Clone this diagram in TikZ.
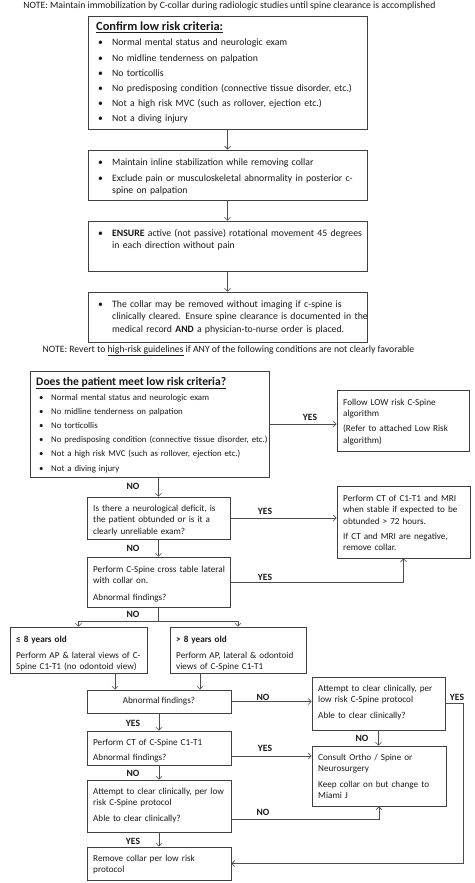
\documentclass[tikz,border=0pt]{standalone}
\usepackage{fontspec}
\setmainfont{Carlito}
\usetikzlibrary{fit,arrows.meta,calc}
\newcommand{\bu}{\makebox[14pt][l]{\textbullet}}
\newcommand{\bv}{\makebox[12pt][l]{\textbullet}}
\begin{document}
\begin{tikzpicture}[x=1pt,y=-1pt,
  box/.style={draw=black!75, line width=0.8pt, inner sep=0pt},
  tx/.style={anchor=base west, inner sep=0pt, align=left, text width=#1, text=black!90,
    font=\fontsize{9.15}{11.5}\selectfont},
  tx/.default=200pt,
  ttl/.style={anchor=base west, inner sep=0pt, text=black!90, font=\fontsize{12.4}{14}\bfseries\selectfont},
  note/.style={inner sep=0pt, text=black!90, font=\fontsize{9.7}{11.5}\selectfont},
  lab/.style={inner sep=0pt, text=black!90, font=\fontsize{9.6}{10}\bfseries\selectfont},
  arr/.style={draw=black!70, line width=0.6pt, -{Straight Barb[length=3pt,width=6pt]}},
  ln/.style={draw=black!70, line width=0.6pt}]
\useasboundingbox (0,0) rectangle (474,883);

% ---------- top part ----------
\node[note] (note1) at (229.5,6) {NOTE: Maintain immobilization by C-collar during radiologic studies until spine clearance is accomplished};

\node[box, fit={(88,16)(367,129)}] (b1) {};
\node[ttl] (b1h) at (96,31) {\underline{Confirm low risk criteria:}};
\node[tx=275pt, font=\fontsize{9.75}{15.2}\selectfont] (b1t) at (98,46)
  {\bu Normal mental status and neurologic exam\\
   \bu No midline tenderness on palpation\\
   \bu No torticollis\\
   \bu No predisposing condition (connective tissue disorder, etc.)\\
   \bu Not a high risk MVC (such as rollover, ejection etc.)\\
   \bu Not a diving injury};

\node[box, fit={(88,150)(367,200)}] (b2) {};
\node[tx=275pt, font=\fontsize{9.75}{12}\selectfont] (b2t) at (98,165)
  {\bu Maintain inline stabilization while removing collar\\[4pt]
   \bu Exclude pain or musculoskeletal abnormality in posterior c-\\
   \hspace*{14pt}spine on palpation};

\node[box, fit={(88,221)(367,271)}] (b3) {};
\node[tx=275pt, font=\fontsize{9.75}{12}\selectfont] (b3t) at (98,236)
  {\bu \textbf{ENSURE} active (not passive) rotational movement 45 degrees\\
   \hspace*{14pt}in each direction without pain};

\node[box, fit={(88,292)(367,342)}] (b4) {};
\node[tx=275pt, font=\fontsize{9.75}{12.5}\selectfont] (b4t) at (98,307)
  {\bu The collar may be removed without imaging if c-spine is\\
   \hspace*{14pt}clinically cleared. Ensure spine clearance is documented in the\\
   \hspace*{14pt}medical record \textbf{AND} a physician-to-nurse order is placed.};

\draw[arr] (b1.south) -- (b2.north);
\draw[arr] (b2.south) -- (b3.north);
\draw[arr] (b3.south) -- (b4.north);

\node[note] (note2) at (228.5,351) {NOTE: Revert to \underline{high-risk guidelines} if ANY of the following conditions are not clearly favorable};

% ---------- lower part ----------
\node[box, fit={(30,371)(269,477)}] (b5) {};
\node[ttl, font=\fontsize{11.6}{14}\bfseries\selectfont] (b5h) at (36,385) {\underline{Does the patient meet low risk criteria?}};
\node[tx=245pt, font=\fontsize{8.8}{14.2}\selectfont] (b5t) at (39,400)
  {\bv Normal mental status and neurologic exam\\
   \bv No midline tenderness on palpation\\
   \bv No torticollis\\
   \bv No predisposing condition (connective tissue disorder, etc.)\\
   \bv Not a high risk MVC (such as rollover, ejection etc.)\\
   \bv Not a diving injury};

\node[box, fit={(337,390)(469,451)}] (fol) {};
\node[tx] (folt) at (343,405)
  {Follow LOW risk C-Spine\\algorithm\\[3.5pt](Refer to attached Low Risk\\algorithm)};

\node[box, fit={(87,497)(230,539)}] (b6) {};
\node[tx] (b6t) at (93,511)
  {Is there a neurological deficit, is\\the patient obtunded or is it a\\clearly unreliable exam?};

\node[box, fit={(337,486)(470,558)}] (ct) {};
\node[tx] (ctt) at (343,501)
  {Perform CT of C1-T1 and MRI\\when stable if expected to be\\obtunded > 72 hours.\\[3.5pt]If CT and MRI are negative,\\remove collar.};

\node[box, fit={(87,557)(230,607)}] (b7) {};
\node[tx] (b7t) at (93,572)
  {Perform C-Spine cross table lateral\\with collar on.\\[5.5pt]Abnormal findings?};

\node[box, fit={(10,627)(147,673)}] (l8) {};
\node[tx] (l8t) at (16,642)
  {\textbf{≤ 8 years old}\\[4.5pt]Perform AP \& lateral views of C-\\Spine C1-T1 (no odontoid view)};

\node[box, fit={(170,627)(306,673)}] (r8) {};
\node[tx] (r8t) at (176,642)
  {\textbf{> 8 years old}\\[4.5pt]Perform AP, lateral \& odontoid\\views of C-Spine C1-T1};

\node[box, fit={(87,690)(231,713)}] (abn) {};
\node[note, font=\fontsize{9.15}{11.5}\selectfont] (abnt) at (abn.center) {Abnormal findings?};

\node[box, fit={(312,677)(445,730)}] (attr) {};
\node[tx] (attrt) at (318,691)
  {Attempt to clear clinically, per\\low risk C-Spine protocol\\[4pt]Able to clear clinically?};

\node[box, fit={(312,746)(446,806)}] (con) {};
\node[tx] (cont) at (318,760)
  {Consult Ortho / Spine or\\Neurosurgery\\[4pt]Keep collar on but change to\\Miami J};

\node[box, fit={(87,731)(231,765)}] (ctc) {};
\node[tx] (ctct) at (93,745)
  {Perform CT of C-Spine C1-T1\\[3.5pt]Abnormal findings?};

\node[box, fit={(87,780)(231,832)}] (attl) {};
\node[tx] (attlt) at (93,794)
  {Attempt to clear clinically, per low\\risk C-Spine protocol\\[4.5pt]Able to clear clinically?};

\node[box, fit={(87,847)(231,880)}] (rem) {};
\node[tx] (remt) at (93,861)
  {Remove collar per low risk\\protocol};

% connectors
\draw[arr] (b5.east) -- (b5.east -| fol.west);
\draw[arr] (b6.north |- b5.south) -- (b6.north);
\draw[arr] (b6.east) -- (b6.east -| ct.west);
\draw[arr] (b6.south) -- (b7.north);
\draw[arr] (b7.east) -| (ct.south);
\coordinate (split) at (158.5,621);
\draw[ln] (b7.south) -- (split);
\draw[arr] (split) -| (l8.north);
\draw[arr] (split) -| (r8.north);
\draw[arr] ([xshift=36.5pt]l8.south) -- ([xshift=36.5pt]l8.south |- abn.north);
\draw[arr] ([xshift=-38pt]r8.south) -- ([xshift=-38pt]r8.south |- abn.north);
\draw[arr] (abn.east) -- (abn.east -| attr.west);
\draw[arr] (attr.east) -- ++(18,0) |- (rem.east);
\draw[arr] (attr.south) -- (attr.south |- con.north);
\draw[arr] (abn.south) -- (ctc.north);
\draw[arr] ([yshift=-8pt]ctc.east) -- ([yshift=-8pt]ctc.east -| con.west);
\draw[arr] (ctc.south) -- (attl.north);
\draw[arr] ([yshift=-13pt]attl.east) -| (con.south);
\draw[arr] (attl.south) -- (rem.north);

% labels
\node[lab] (y1) at (310,417) {YES};
\node[lab] (n1) at (133,486) {NO};
\node[lab] (y2) at (265,511) {YES};
\node[lab] (n2) at (133,548) {NO};
\node[lab] (y3) at (265,577) {YES};
\node[lab] (n3) at (133,614) {NO};
\node[lab] (n4) at (263,697) {NO};
\node[lab] (y4) at (457,697) {YES};
\node[lab] (n5) at (362,738) {NO};
\node[lab] (y5) at (133,723) {YES};
\node[lab] (y6) at (265,748) {YES};
\node[lab] (n6) at (133,773) {NO};
\node[lab] (n7) at (263,812) {NO};
\node[lab] (y7) at (133,841) {YES};
\end{tikzpicture}
\end{document}
